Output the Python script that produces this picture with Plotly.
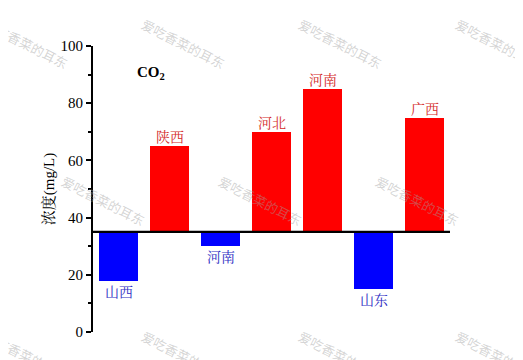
import plotly.graph_objects as go

provinces = ["山西", "陕西", "河南", "河北", "河南", "山东", "广西"]
concentration = [18, 65, 30, 70, 85, 15, 75]
baseline = 35
y_ticks = [0, 20, 40, 60, 80, 100]

red = "#ff0000"
blue = "#0000ff"
red_txt = "#d42a2a"
blue_txt = "#2f2fc4"

# page offset (browser body margin) compensation
OFF = 8
L, T, PW, PH = 93 - OFF, 46 - OFF, 357, 286
W, H = 523, 360

xs = list(range(len(provinces)))
above = [v >= baseline for v in concentration]
colors = [red if a else blue for a in above]

fig = go.Figure()
fig.add_trace(go.Bar(
    x=xs,
    y=[v - baseline for v in concentration],
    base=[baseline] * len(xs),
    marker=dict(color=colors, line=dict(width=0)),
    width=0.76,
    showlegend=False,
    hoverinfo="skip",
))

serif = "Liberation Serif, Times New Roman, Noto Serif CJK SC, Noto Sans CJK SC, serif"
cjk = "Noto Serif CJK SC, Noto Sans CJK SC, serif"

annotations = []
for x, name, v, a in zip(xs, provinces, concentration, above):
    annotations.append(dict(
        x=x, y=v, xref="x", yref="y", text=name, showarrow=False,
        xanchor="center",
        yanchor="bottom" if a else "top",
        yshift=-2 if a else 2,
        font=dict(family=cjk, size=14, color=red_txt if a else blue_txt),
    ))

annotations.append(dict(
    x=0.63, y=90.6, xref="x", yref="y", text="<b>CO<sub>2</sub></b>",
    showarrow=False, font=dict(family=serif, size=15, color="black"),
))

# watermark lattice (screen pixel centres)
wm_text = "爱吃香菜的耳东"
rows_y = [43, 200, 355]
for ri, wy in enumerate(rows_y):
    offset = 0 if ri % 2 == 0 else 77
    for k in range(-1, 5):
        wx = 26 + offset + 157 * k
        if -20 < wx < 545:
            fx = wx - OFF
            fy = wy - OFF
            annotations.append(dict(
                x=(fx - L) / PW, y=1 - (fy - T) / PH, xref="paper", yref="paper",
                xanchor="center", yanchor="middle",
                text=wm_text, showarrow=False, textangle=27,
                font=dict(family="Noto Sans CJK SC", size=13,
                          color="rgba(160,160,160,0.45)"),
            ))

fig.update_layout(
    width=W, height=H,
    margin=dict(l=L, r=W - L - PW, t=T, b=H - T - PH, autoexpand=False),
    plot_bgcolor="white", paper_bgcolor="white",
    bargap=0,
    shapes=[dict(type="line", xref="x", yref="y", x0=-0.5, x1=6.5,
                 y0=baseline, y1=baseline, line=dict(color="black", width=2.2))],
    annotations=annotations,
)
fig.update_xaxes(range=[-0.5, 6.5], visible=False, showgrid=False, zeroline=False)
fig.update_yaxes(
    range=[0, 100], tickvals=y_ticks, ticks="outside", ticklen=5, tickwidth=2,
    tickcolor="black", showline=True, linecolor="black", linewidth=2,
    showgrid=False, zeroline=False,
    minor=dict(dtick=10, ticks="outside", ticklen=3, tickwidth=1.5, tickcolor="black", showgrid=False),
    tickfont=dict(family=serif, size=15, color="black"),
    title=dict(text="浓度(mg/L)", font=dict(family=serif, size=15, color="black"), standoff=2),
)

fig.write_html("out.html")
